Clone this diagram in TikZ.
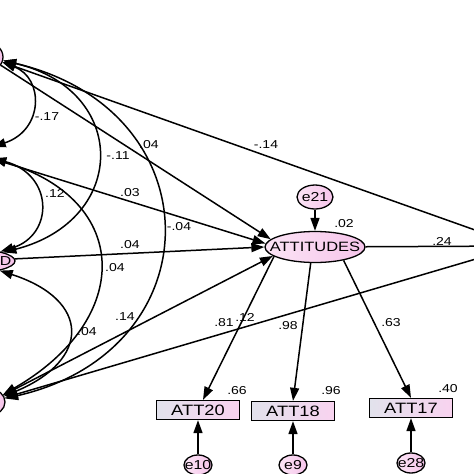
\documentclass[tikz,border=0pt]{standalone}
\usepackage{fontspec}
\setmainfont[FakeStretch=1.22]{Liberation Sans}
\usetikzlibrary{positioning,shapes.geometric,arrows.meta,calc}
\definecolor{amospink}{RGB}{246,196,234}
\definecolor{amosgray}{RGB}{226,226,236}

\begin{document}
\begin{tikzpicture}[x=1pt,y=-1pt,
    latent/.style={ellipse, draw=black, line width=1.3pt, inner sep=0pt,
        left color=amospink!45!white, right color=amospink},
    observed/.style={rectangle, draw=black, line width=1.3pt, inner sep=0pt,
        minimum width=83pt, minimum height=19pt,
        left color=amosgray, right color=amospink!75!white,
        font=\fontsize{15}{17}\selectfont},
    errnode/.style={latent, minimum width=28pt, minimum height=20pt,
        font=\fontsize{13}{15}\selectfont},
    regpath/.style={line width=1.5pt, -{Triangle[length=13pt,width=9pt]}},
    cov/.style={line width=1.5pt,
        {Triangle[length=13pt,width=9pt]}-{Triangle[length=13pt,width=9pt]}},
    coef/.style={font=\fontsize{11.5}{13}\selectfont, inner sep=1pt}]

    \useasboundingbox (0,0) rectangle (474,474);
    \clip (0,0) rectangle (474,474);

    % exogenous variables, cut off at the edges
    \node[latent, minimum width=30pt, minimum height=28pt] (exo1) at (-12,57) {};
    \node[latent, minimum width=40pt, minimum height=28pt] (exo2) at (-26,153) {};
    \node[latent, minimum width=90pt, minimum height=24pt] (exo3) at (-30,261) {};
    \node[font=\fontsize{13}{15}\selectfont, anchor=east, inner sep=0pt] (exo3txt)
        at ($(exo3.east)+(-4,0)$) {D};
    \node[latent, minimum width=30pt, minimum height=26pt] (exo4) at (-10,402) {};
    \node[latent, minimum width=60pt, minimum height=40pt] (endo) at (520,246) {};

    % attitudes factor
    \node[latent, minimum width=100pt, minimum height=31pt,
        font=\fontsize{13.5}{15}\selectfont] (att) at (315,247) {\makebox[0pt]{ATTITUDES}};
    \node[errnode, minimum width=36pt, minimum height=24pt] (e21) at (315,197) {\makebox[0pt]{e21}};
    \node[observed] (att20) at (198,410) {ATT20};
    \node[observed] (att18) at (293,411) {ATT18};
    \node[observed] (att17) at (411,408) {ATT17};
    \node[errnode] (e10) at (198,465) {\makebox[0pt]{e10}};
    \node[errnode] (e9) at (293,465) {\makebox[0pt]{e9}};
    \node[errnode] (e28) at (411,463) {\makebox[0pt]{e28}};

    % paths
    \draw[regpath] (exo1) -- (att.170);
    \draw[regpath] (exo2) -- (att.176);
    \draw[regpath] (exo3) -- (att.west);
    \draw[regpath] (exo4) -- (att.192);
    \draw[regpath] (e21) -- (att);
    \draw[regpath] (att) -- (endo);
    \draw[regpath] (att.193) -- ($(att20.north)+(5,0)$);
    \draw[regpath] (att.255) -- (att18.north);
    \draw[regpath] (att.-25) -- (att17.north);
    \draw[regpath] (e10) -- (att20);
    \draw[regpath] (e9) -- (att18);
    \draw[regpath] (e28) -- (att17);

    % covariances
    \draw[cov] (endo) -- (exo1);
    \draw[cov] (endo) -- (exo4);
    \draw[cov] (exo1) .. controls (44,78) and (44,130) .. (exo2);
    \draw[cov] (exo1) .. controls (129,90) and (129,220) .. (exo3);
    \draw[cov] (exo1) .. controls (215,110) and (215,350) .. (exo4);
    \draw[cov] (exo2) .. controls (54,175) and (54,235) .. (exo3);
    \draw[cov] (exo2) .. controls (133,200) and (133,320) .. (exo4);
    \draw[cov] (exo3) .. controls (91,300) and (91,360) .. (exo4);

    % estimates
    \node[coef] (k1) at (47,117) {-.17};
    \node[coef] (k2) at (118,156) {-.11};
    \node[coef] (k3) at (149,145) {.04};
    \node[coef] (k4) at (266,145) {-.14};
    \node[coef] (k5) at (55,193) {.12};
    \node[coef] (k6) at (130,193) {.03};
    \node[coef] (k7) at (179,227) {-.04};
    \node[coef] (k8) at (130,245) {.04};
    \node[coef] (k9) at (115,268) {.04};
    \node[coef] (k10) at (125,317) {.14};
    \node[coef] (k11) at (87,332) {.04};
    \node[coef] (k12) at (224,323) {.81};
    \node[coef] (k13) at (245,317) {.12};
    \node[coef] (k14) at (288,326) {.98};
    \node[coef] (k15) at (391,323) {.63};
    \node[coef] (k16) at (442,241) {.24};
    \node[coef] (k17) at (344,224) {.02};
    \node[coef] (k18) at (237,391) {.66};
    \node[coef] (k19) at (331,391) {.96};
    \node[coef] (k20) at (448,389) {.40};
\end{tikzpicture}
\end{document}
